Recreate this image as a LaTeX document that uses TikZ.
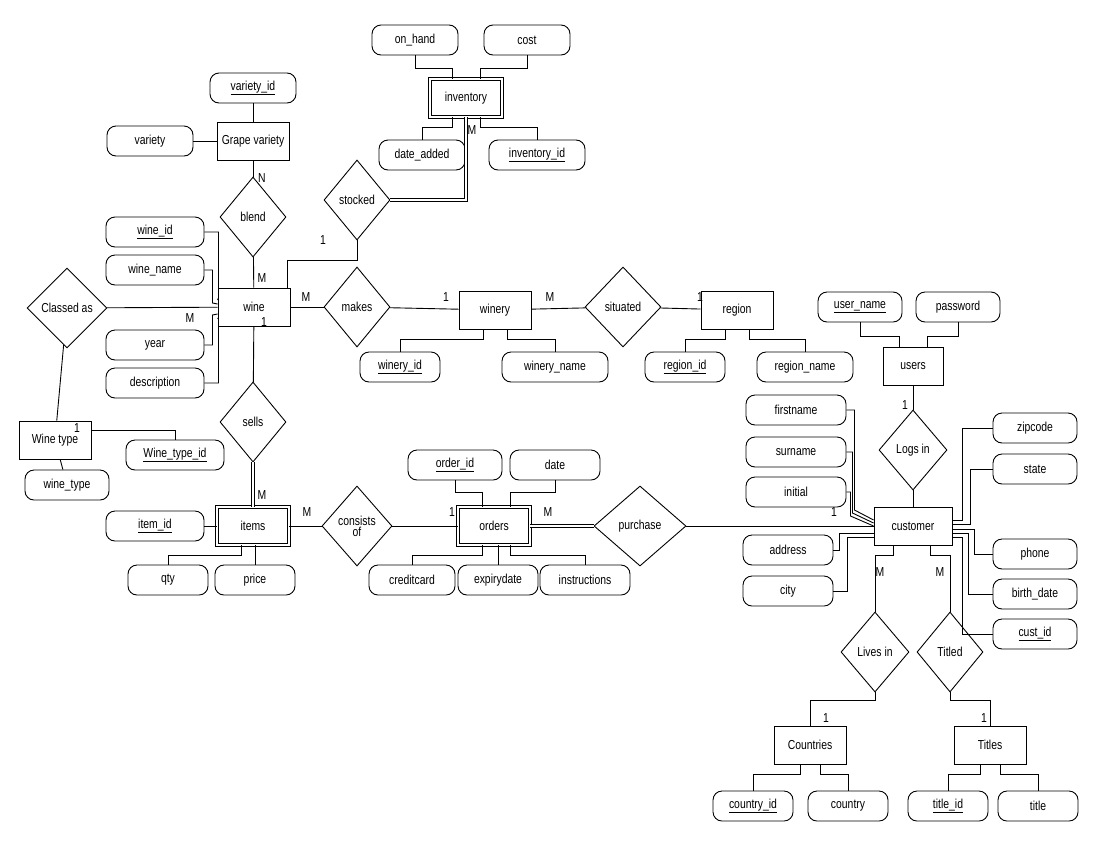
\documentclass[tikz,border=0pt]{standalone}
\usepackage{fontspec}
\setmainfont{Liberation Sans}[FakeStretch=0.8]
\usetikzlibrary{shapes.geometric}
\begin{document}
\begin{tikzpicture}[x=1pt,y=-1pt,line width=0.9pt,
 every node/.style={font=\fontsize{13}{14}\selectfont},
 attr/.style={draw,rounded corners=9pt,minimum height=30pt,minimum width=86pt,inner sep=2pt},
 ent/.style={draw,minimum height=38pt,minimum width=72pt,inner sep=3pt},
 weak/.style={ent,double,double distance=2pt},
 rel/.style={draw,diamond,inner sep=0pt,minimum width=66pt,minimum height=80pt},
 dbl/.style={double,double distance=1.6pt},
 card/.style={font=\fontsize{13}{14}\selectfont,inner sep=1pt}]
\useasboundingbox (0,0) rectangle (1115,849);
% entities
\node[weak] (inv) at (466,98) {inventory};
\node[ent] (gv) at (253,141) {Grape variety};
\node[ent] (wine) at (254,307) {wine};
\node[ent] (winery) at (495,310) {winery};
\node[ent] (region) at (737,310) {region};
\node[ent,minimum width=60pt] (users) at (913,366) {users};
\node[ent,minimum width=78pt] (cust) at (913,526) {customer};
\node[ent] (wt) at (55,440) {Wine type};
\node[weak] (items) at (253,526) {items};
\node[weak] (orders) at (494,526) {orders};
\node[ent] (ctry) at (810,745) {Countries};
\node[ent] (titles) at (990,745) {Titles};
% relationships
\node[rel] (blend) at (253,217) {blend};
\node[rel] (stocked) at (357,200) {stocked};
\node[rel,minimum width=80pt] (classed) at (67,308) {Classed as};
\node[rel] (makes) at (357,307) {makes};
\node[rel,minimum width=76pt] (situated) at (623,307) {situated};
\node[rel,minimum width=68pt] (logs) at (913,450) {Logs in};
\node[rel] (sells) at (253,422) {sells};
\node[rel,minimum width=70pt,align=center] (cons) at (357,526) {consists\\[-3pt]of};
\node[rel,minimum width=92pt] (purch) at (640,526) {purchase};
\node[rel,minimum width=68pt] (lives) at (875,652) {Lives in};
\node[rel,minimum width=66pt] (titled) at (950,652) {Titled};
% attributes
\node[attr] (onhand) at (415,40) {on\_hand};
\node[attr] (cost) at (527,40) {cost};
\node[attr] (dadd) at (422,155) {date\_added};
\node[attr,minimum width=96pt] (invid) at (537,155) {\underline{inventory\_id}};
\node[attr] (vid) at (253,88) {\underline{variety\_id}};
\node[attr] (var) at (150,141) {variety};
\node[attr,minimum width=98pt] (wid) at (155,232) {\underline{wine\_id}};
\node[attr,minimum width=98pt] (wname) at (155,270) {wine\_name};
\node[attr,minimum width=98pt] (year) at (155,345) {year};
\node[attr,minimum width=98pt] (desc) at (155,383) {description};
\node[attr,minimum width=80pt] (wyid) at (400,367) {\underline{winery\_id}};
\node[attr,minimum width=106pt] (wyname) at (555,367) {winery\_name};
\node[attr,minimum width=80pt] (rid) at (685,367) {\underline{region\_id}};
\node[attr,minimum width=96pt] (rname) at (805,367) {region\_name};
\node[attr,minimum width=84pt] (uname) at (860,307) {\underline{user\_name}};
\node[attr,minimum width=84pt] (pwd) at (958,307) {password};
\node[attr,minimum width=100pt] (fn) at (796,410) {firstname};
\node[attr,minimum width=100pt] (sn) at (796,452) {surname};
\node[attr,minimum width=100pt] (ini) at (796,492) {initial};
\node[attr,minimum width=90pt] (addr) at (788,550) {address};
\node[attr,minimum width=90pt] (city) at (788,591) {city};
\node[attr,minimum width=84pt] (zip) at (1035,428) {zipcode};
\node[attr,minimum width=84pt] (state) at (1035,469) {state};
\node[attr,minimum width=84pt] (phone) at (1035,554) {phone};
\node[attr,minimum width=84pt] (bdate) at (1035,594) {birth\_date};
\node[attr,minimum width=84pt] (cid) at (1035,634) {\underline{cust\_id}};
\node[attr,minimum width=80pt] (ctid) at (753,806) {\underline{country\_id}};
\node[attr,minimum width=80pt] (ctry2) at (848,806) {country};
\node[attr,minimum width=80pt] (tid) at (948,806) {\underline{title\_id}};
\node[attr,minimum width=80pt] (title) at (1038,806) {title};
\node[attr,minimum width=98pt] (wtid) at (175,455) {\underline{Wine\_type\_id}};
\node[attr,minimum width=84pt] (wtype) at (67,485) {wine\_type};
\node[attr,minimum width=98pt] (iid) at (155,526) {\underline{item\_id}};
\node[attr,minimum width=80pt] (qty) at (168,580) {qty};
\node[attr,minimum width=80pt] (price) at (255,580) {price};
\node[attr,minimum width=94pt] (oid) at (455,465) {\underline{order\_id}};
\node[attr,minimum width=90pt] (date) at (555,465) {date};
\node[attr,minimum width=86pt] (cc) at (412,580) {creditcard};
\node[attr,minimum width=80pt] (exp) at (498,580) {expirydate};
\node[attr,minimum width=90pt] (instr) at (585,580) {instructions};
% inventory
\draw (onhand.south) -- ++(0,13) -| ([xshift=-14pt]inv.north);
\draw (cost.south) -- ++(0,13) -| ([xshift=14pt]inv.north);
\draw ([xshift=-14pt]inv.south) -- ++(0,10) -| (dadd.north);
\draw ([xshift=14pt]inv.south) -- ++(0,10) -| (invid.north);
\draw[dbl,line width=1.2pt] (stocked.east) -| (inv.south);
\draw (stocked.south) -- ++(0,20) -| ([xshift=33pt]wine.north);
% grape
\draw (vid) -- (gv);
\draw (var) -- (gv);
\draw (gv) -- (blend);
\draw (blend) -- (wine);
% wine attrs
\draw (wid.east) -| ++(14,66) -- ([yshift=7pt]wine.west);
\draw (wname.east) -| ++(8,33) -- ([yshift=3pt]wine.west);
\draw (year.east) -| ++(8,-30) -- ([yshift=-7pt]wine.west);
\draw (desc.east) -| ++(14,-64) -- ([yshift=-11pt]wine.west);
\draw (classed) -- (wine);
\draw (classed) -- (wt);
\draw (wt.east) -- ++(0,-10) -| (wtid.north) ;
\draw (wt) -- (wtype);
% makes etc
\draw (wine) -- (makes);
\draw (makes) -- (winery);
\draw (winery) -- (situated);
\draw (situated) -- (region);
\draw ([xshift=-12pt]winery.south) -- ++(0,10) -| (wyid.north);
\draw ([xshift=12pt]winery.south) -- ++(0,10) -| (wyname.north);
\draw ([xshift=-12pt]region.south) -- ++(0,10) -| (rid.north);
\draw ([xshift=12pt]region.south) -- ++(0,10) -| (rname.north);
\draw (uname.south) -- ++(0,14) -| ([xshift=-14pt]users.north);
\draw (pwd.south) -- ++(0,14) -| ([xshift=14pt]users.north);
\draw (users) -- (logs);
\draw (logs) -- (cust);
% customer attrs
\draw (fn.east) -| ++(8,100) -- ([yshift=6pt]cust.west);
\draw (sn.east) -| ++(6,61) -- ([yshift=3pt]cust.west);
\draw (ini.east) -| ++(4,24) -- ([yshift=0pt]cust.west);
\draw (addr.east) -| ++(6,-17) -- ([yshift=-7pt]cust.west);
\draw (city.east) -| ++(14,-54) -- ([yshift=-11pt]cust.west);
\draw ([yshift=6pt]cust.east) -| ++(10,0) |- (zip.west);
\draw ([yshift=2pt]cust.east) -| ++(18,0) |- (state.west);
\draw ([yshift=-3pt]cust.east) -| ++(22,0) |- (phone.west);
\draw ([yshift=-7pt]cust.east) -| ++(16,0) |- (bdate.west);
\draw ([yshift=-11pt]cust.east) -| ++(10,0) |- (cid.west);
\draw ([xshift=-20pt]cust.south) -- ++(0,10) -| (lives.north);
\draw ([xshift=17pt]cust.south) -- ++(0,10) -| (titled.north);
\draw (lives.south) -- ++(0,8) -| (ctry.north);
\draw (titled.south) -- ++(0,8) -| (titles.north);
\draw ([xshift=-10pt]ctry.south) -- ++(0,10) -| (ctid.north);
\draw ([xshift=10pt]ctry.south) -- ++(0,10) -| (ctry2.north);
\draw ([xshift=-10pt]titles.south) -- ++(0,10) -| (tid.north);
\draw ([xshift=10pt]titles.south) -- ++(0,10) -| (title.north);
% sells etc
\draw (wine) -- (sells);
\draw[dbl] (sells) -- (items);
\draw (iid) -- (items);
\draw ([xshift=-12pt]items.south) -- ++(0,10) -| (qty.north);
\draw ([xshift=2pt]items.south) -- (price.north);
\draw (items) -- (cons);
\draw (cons) -- (orders);
\draw[dbl] (orders) -- (purch);
\draw (purch) -- (cust);
\draw (oid.south) -- ++(0,12) -| ([xshift=-12pt]orders.north);
\draw (date.south) -- ++(0,12) -| ([xshift=16pt]orders.north);
\draw ([xshift=-12pt]orders.south) -- ++(0,10) -| (cc.north);
\draw ([xshift=4pt]orders.south) -- (exp.north);
\draw ([xshift=16pt]orders.south) -- ++(0,10) -| (instr.north);
% cardinalities
\node[card] at (262,178) {N};
\node[card] at (262,278) {M};
\node[card] at (323,240) {1};
\node[card] at (472,130) {M};
\node[card] at (306,297) {M};
\node[card] at (446,297) {1};
\node[card] at (550,297) {M};
\node[card] at (700,297) {1};
\node[card] at (190,318) {M};
\node[card] at (264,322) {1};
\node[card] at (77,428) {1};
\node[card] at (262,495) {M};
\node[card] at (307,512) {M};
\node[card] at (452,512) {1};
\node[card] at (548,512) {M};
\node[card] at (834,512) {1};
\node[card] at (905,405) {1};
\node[card] at (880,572) {M};
\node[card] at (940,572) {M};
\node[card] at (826,718) {1};
\node[card] at (984,718) {1};
\end{tikzpicture}
\end{document}
